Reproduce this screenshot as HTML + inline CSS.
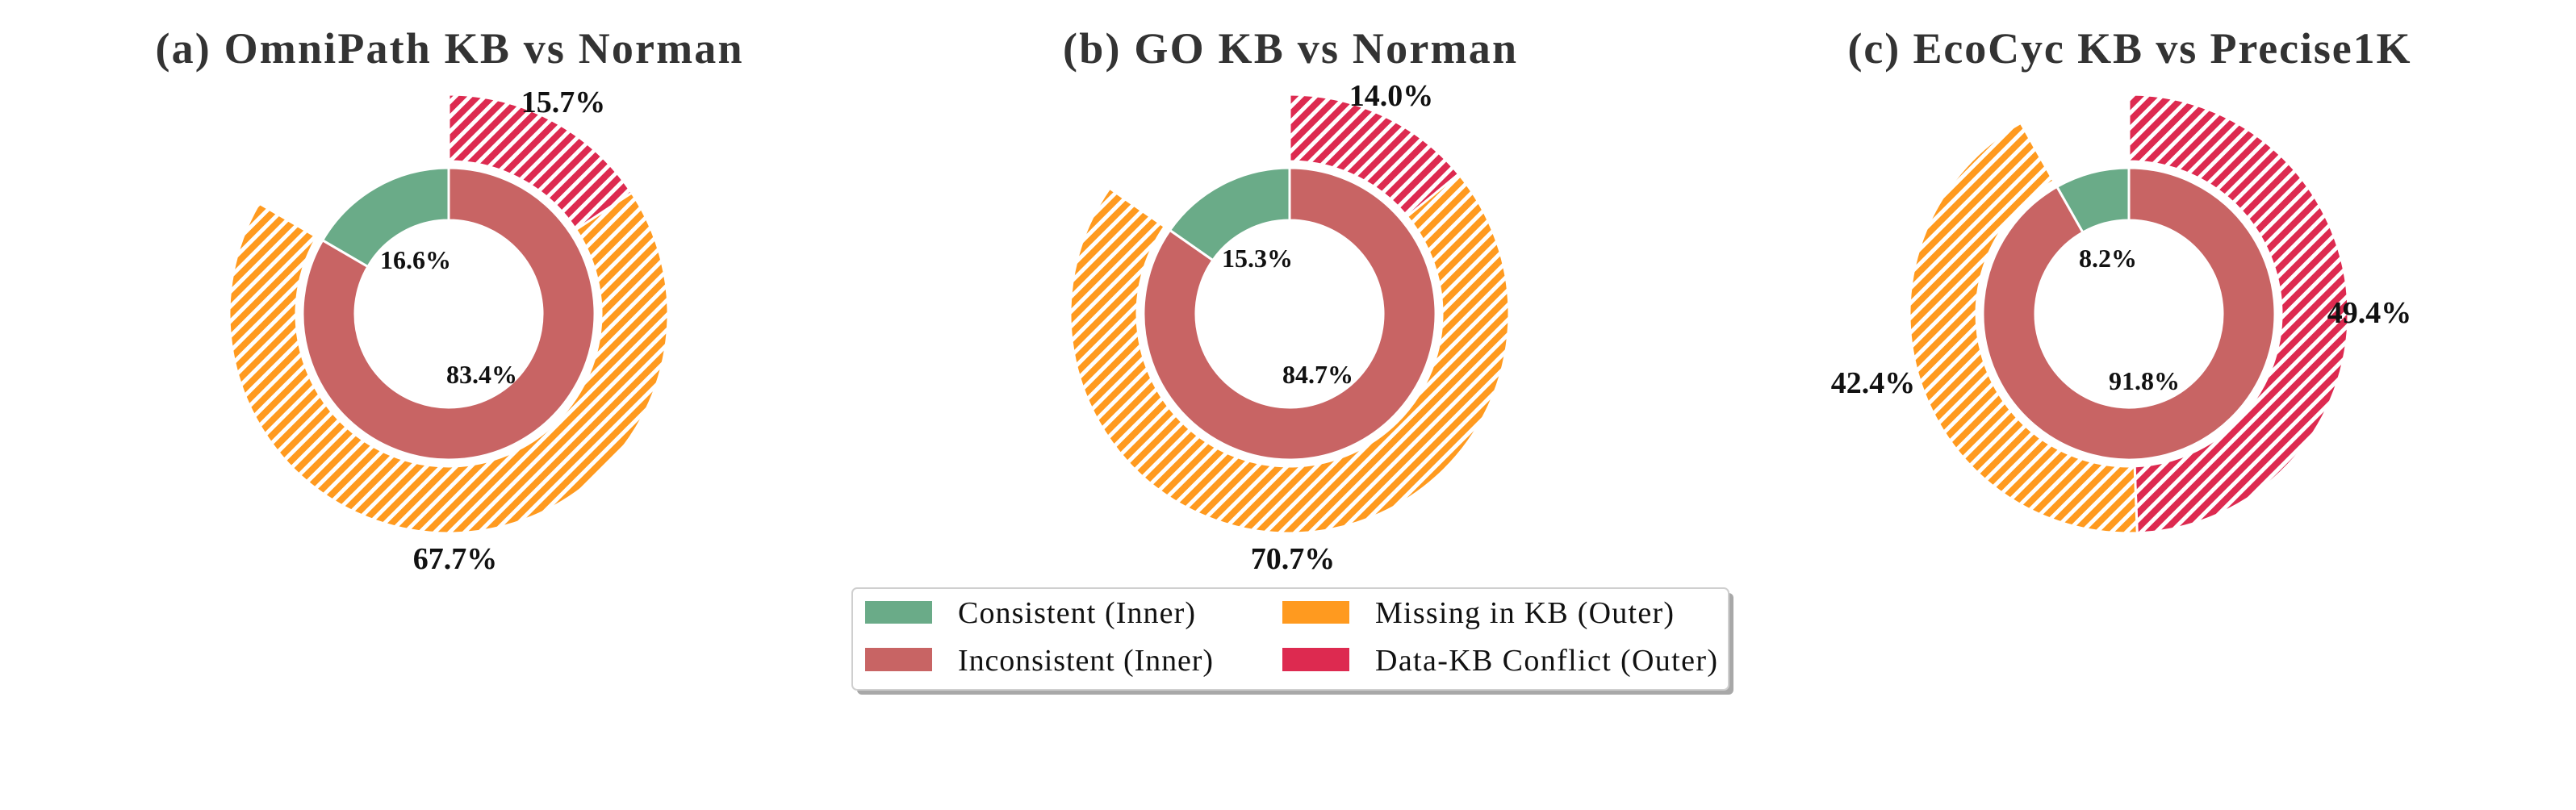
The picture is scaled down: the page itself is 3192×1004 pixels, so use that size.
<!DOCTYPE html>
<html><head><meta charset="utf-8"><style>
html,body{margin:0;padding:0;background:#fff;}
svg{display:block;}
.t{font-family:"Liberation Serif",serif;font-weight:bold;fill:#333;font-size:54px;}
.p{font-family:"Liberation Serif",serif;font-weight:bold;fill:#111;}
.l{font-family:"Liberation Serif",serif;fill:#111;font-size:38px;}
</style></head><body>
<svg id="s" width="3192" height="1004" viewBox="0 0 3192 1004" xmlns="http://www.w3.org/2000/svg">
<defs>
<pattern id="ho" patternUnits="userSpaceOnUse" width="13" height="13" patternTransform="rotate(45)">
<rect width="13" height="13" fill="#ff9a1f"/><rect x="0" y="0" width="5" height="13" fill="#fff"/></pattern>
<pattern id="hr" patternUnits="userSpaceOnUse" width="13" height="13" patternTransform="rotate(45)">
<rect width="13" height="13" fill="#dd2a50"/><rect x="0" y="0" width="5" height="13" fill="#fff"/></pattern>
</defs>
<g id="charts"></g>
<text class="t" x="556" y="78" text-anchor="middle" textLength="727">(a) OmniPath KB vs Norman</text>
<text class="t" x="1598" y="78" text-anchor="middle" textLength="562">(b) GO KB vs Norman</text>
<text class="t" x="2638" y="78" text-anchor="middle" textLength="697">(c) EcoCyc KB vs Precise1K</text>
<g class="p">
<text x="698" y="139" font-size="38" text-anchor="middle">15.7%</text>
<text x="564" y="705" font-size="38" text-anchor="middle">67.7%</text>
<text x="515" y="333" font-size="32" text-anchor="middle">16.6%</text>
<text x="597" y="475" font-size="32" text-anchor="middle">83.4%</text>
<text x="1724" y="131" font-size="38" text-anchor="middle">14.0%</text>
<text x="1602" y="705" font-size="38" text-anchor="middle">70.7%</text>
<text x="1558" y="331" font-size="32" text-anchor="middle">15.3%</text>
<text x="1633" y="475" font-size="32" text-anchor="middle">84.7%</text>
<text x="2936" y="400" font-size="38" text-anchor="middle">49.4%</text>
<text x="2321" y="487" font-size="38" text-anchor="middle">42.4%</text>
<text x="2612" y="331" font-size="32" text-anchor="middle">8.2%</text>
<text x="2657" y="483" font-size="32" text-anchor="middle">91.8%</text>
</g>
<rect x="1062" y="735" width="1086" height="126" rx="6" fill="#a8a8a8"/>
<rect x="1056" y="729" width="1086" height="126" rx="6" fill="#fff" stroke="#cfcfcf" stroke-width="2"/>
<rect x="1072" y="745" width="83" height="28" fill="#6aab88"/>
<rect x="1072" y="803" width="83" height="29" fill="#c86464"/>
<rect x="1589" y="745" width="83" height="28" fill="#ff9a1f"/>
<rect x="1589" y="803" width="83" height="29" fill="#dd2a50"/>
<text class="l" x="1187" y="772" textLength="294">Consistent (Inner)</text>
<text class="l" x="1187" y="831" textLength="316">Inconsistent (Inner)</text>
<text class="l" x="1704" y="772" textLength="370">Missing in KB (Outer)</text>
<text class="l" x="1704" y="831" textLength="424">Data-KB Conflict (Outer)</text>
</svg>
<script>
function pt(cx,cy,r,f){var a=2*Math.PI*f;return [cx+r*Math.sin(a),cy-r*Math.cos(a)];}
function wedge(cx,cy,r0,r1,f0,f1,fill){
 var large=(f1-f0)>0.5?1:0;
 var a=pt(cx,cy,r1,f0),b=pt(cx,cy,r1,f1),c=pt(cx,cy,r0,f1),d=pt(cx,cy,r0,f0);
 var p="M"+a[0]+" "+a[1]+" A"+r1+" "+r1+" 0 "+large+" 1 "+b[0]+" "+b[1]+" L"+c[0]+" "+c[1]+" A"+r0+" "+r0+" 0 "+large+" 0 "+d[0]+" "+d[1]+" Z";
 return '<path d="'+p+'" fill="'+fill+'" stroke="#fff" stroke-width="3" stroke-linejoin="round"/>';
}
var data=[[556,389,.166,.157,.677],[1598,389,.153,.140,.707],[2638,389,.082,.494,.424]];
var h="";
data.forEach(function(d){
 var cx=d[0],cy=d[1];
 h+=wedge(cx,cy,116,181,-d[2],0,"#6aab88");
 h+=wedge(cx,cy,116,181,0,1-d[2],"#c86464");
 h+=wedge(cx,cy,189,272,0,d[3],"url(#hr)");
 h+=wedge(cx,cy,189,272,d[3],d[3]+d[4],"url(#ho)");
});
document.getElementById("charts").innerHTML=h;
</script>
</body></html>
